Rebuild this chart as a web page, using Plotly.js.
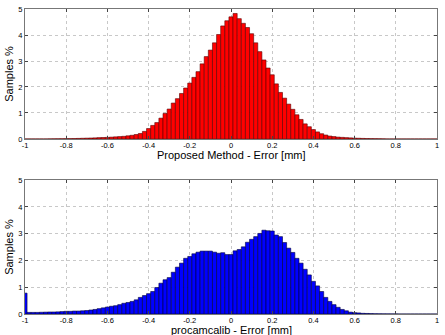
<!DOCTYPE html>
<html>
<head>
<meta charset="utf-8">
<script src="https://cdn.plot.ly/plotly-3.0.1.min.js"></script>
<style>html,body{margin:0;padding:0;background:#fff;}#chart{width:445px;height:335px;}</style>
</head>
<body>
<div id="chart"></div>
<script>
// Histogram bin centres (mm)
const binCenters = [-1.00,-0.98,-0.96,-0.94,-0.92,-0.90,-0.88,-0.86,-0.84,-0.82,
 -0.80,-0.78,-0.76,-0.74,-0.72,-0.70,-0.68,-0.66,-0.64,-0.62,
 -0.60,-0.58,-0.56,-0.54,-0.52,-0.50,-0.48,-0.46,-0.44,-0.42,
 -0.40,-0.38,-0.36,-0.34,-0.32,-0.30,-0.28,-0.26,-0.24,-0.22,
 -0.20,-0.18,-0.16,-0.14,-0.12,-0.10,-0.08,-0.06,-0.04,-0.02,
 0.00,0.02,0.04,0.06,0.08,0.10,0.12,0.14,0.16,0.18,
 0.20,0.22,0.24,0.26,0.28,0.30,0.32,0.34,0.36,0.38,
 0.40,0.42,0.44,0.46,0.48,0.50,0.52,0.54,0.56,0.58,
 0.60,0.62,0.64,0.66,0.68,0.70,0.72,0.74,0.76,0.78,
 0.80,0.82,0.84,0.86,0.88,0.90,0.92,0.94,0.96,0.98,1.00];

// Proposed Method: samples %
const proposedPct = [0,0,0,0,0,0,
 0.003,0.005,0.006,0.008,0.01,0.012,0.015,0.02,0.025,0.03,0.035,0.04,0.05,0.055,0.06,0.07,0.08,0.09,0.10,0.12,0.14,0.17,0.21,0.29,
 0.40,0.52,0.63,0.80,0.98,1.15,1.38,1.55,1.75,1.96,2.15,2.37,2.59,2.89,3.17,3.42,3.70,4.02,4.35,4.55,
 4.70,
 4.83,4.63,4.45,4.29,4.05,3.70,3.36,3.04,2.73,2.47,2.12,1.79,1.57,1.34,1.14,0.93,0.75,0.58,0.47,0.36,
 0.27,0.20,0.15,0.11,0.09,0.07,0.06,0.05,0.04,0.03,0.025,0.02,0.015,0.012,0.01,0.008,0.005,
 0,0,0,0,0,0,0,0,0,0,0,0,0];

// procamcalib: samples %
const procamPct = [0.78,0.06,0.06,0.06,0.065,0.07,0.075,0.075,0.08,0.09,
 0.10,0.10,0.11,0.11,0.12,0.13,0.15,0.17,0.20,0.23,
 0.26,0.29,0.31,0.35,0.40,0.43,0.47,0.53,0.62,0.69,
 0.76,0.84,0.99,1.15,1.28,1.36,1.56,1.75,1.90,2.08,
 2.15,2.25,2.31,2.35,2.35,2.35,2.31,2.27,2.29,2.22,
 2.22,
 2.36,2.41,2.51,2.68,2.79,2.89,3.01,3.13,3.11,3.10,
 2.95,2.89,2.67,2.46,2.30,2.08,1.90,1.67,1.46,1.22,
 1.05,0.84,0.62,0.47,0.35,0.25,0.17,0.12,0.07,0.05,
 0.04,0.025,0.02,0.015,0.01,0.008,0.006,0.005,0.004,0.003,
 0,0,0,0,0,0,0,0,0,0];

const xTickVals = [-1,-0.8,-0.6,-0.4,-0.2,0,0.2,0.4,0.6,0.8,1];
const xTickText = ['-1','-0.8','-0.6','-0.4','-0.2','0','0.2','0.4','0.6','0.8','1'];
const yTickVals = [0,1,2,3,4,5];
const yTickText = ['0','1','2','3','4','5'];
const topXTitle = 'Proposed Method - Error [mm]';
const botXTitle = 'procamcalib - Error [mm]';
const yTitle = 'Samples %';

const FONT = 'Liberation Sans, Arial, sans-serif';

const traces = [
  {type:'bar', x:binCenters, y:proposedPct, width:0.02, xaxis:'x', yaxis:'y',
   marker:{color:'#ff0000', line:{color:'#5a0000', width:0.6}}, hoverinfo:'none'},
  {type:'bar', x:binCenters, y:procamPct, width:0.02, xaxis:'x2', yaxis:'y2',
   marker:{color:'#0000ff', line:{color:'#00003a', width:0.6}}, hoverinfo:'none'}
];

function xax(anchor){
  return {range:[-1,1], anchor:anchor, tickvals:xTickVals, ticktext:xTickText,
    ticks:'inside', ticklen:3, tickcolor:'#444', showline:true, linecolor:'#777', linewidth:1, mirror:'ticks',
    showgrid:true, gridcolor:'#c8c8c8', griddash:'dot', gridwidth:1, zeroline:false,
    tickfont:{family:FONT, size:7.5, color:'#000'}, ticklabelstandoff:-1, ticklabeloverflow:'allow',
    automargin:false, fixedrange:true};
}
function yax(domain, anchor){
  return {range:[0,5.002], domain:domain, anchor:anchor, tickvals:yTickVals, ticktext:yTickText,
    ticks:'inside', ticklen:3, tickcolor:'#444', showline:true, linecolor:'#777', linewidth:1, mirror:'ticks',
    showgrid:true, gridcolor:'#c8c8c8', griddash:'dot', gridwidth:1, zeroline:false,
    tickfont:{family:FONT, size:7.5, color:'#000'}, ticklabeloverflow:'allow',
    title:{text:yTitle, font:{family:FONT, size:11, color:'#000'}, standoff:2},
    automargin:false, fixedrange:true};
}

const layout = {
  width:445, height:335,
  margin:{l:25, r:8, t:9, b:21},
  paper_bgcolor:'#fff', plot_bgcolor:'#fff',
  showlegend:false, bargap:0,
  xaxis: xax('y'),
  yaxis: yax([0.574,1],'x'),
  xaxis2: xax('y2'),
  yaxis2: yax([0,0.439],'x2'),
  annotations:[
    {text:topXTitle, xref:'paper', yref:'paper', x:0.5, y:0.521, xanchor:'center', yanchor:'middle',
     showarrow:false, font:{family:FONT, size:11, color:'#000'}},
    {text:botXTitle, xref:'paper', yref:'paper', x:0.5, y:-0.0535, xanchor:'center', yanchor:'middle',
     showarrow:false, font:{family:FONT, size:11, color:'#000'}}
  ]
};

Plotly.newPlot('chart', traces, layout, {staticPlot:true, displayModeBar:false});
</script>
</body>
</html>
